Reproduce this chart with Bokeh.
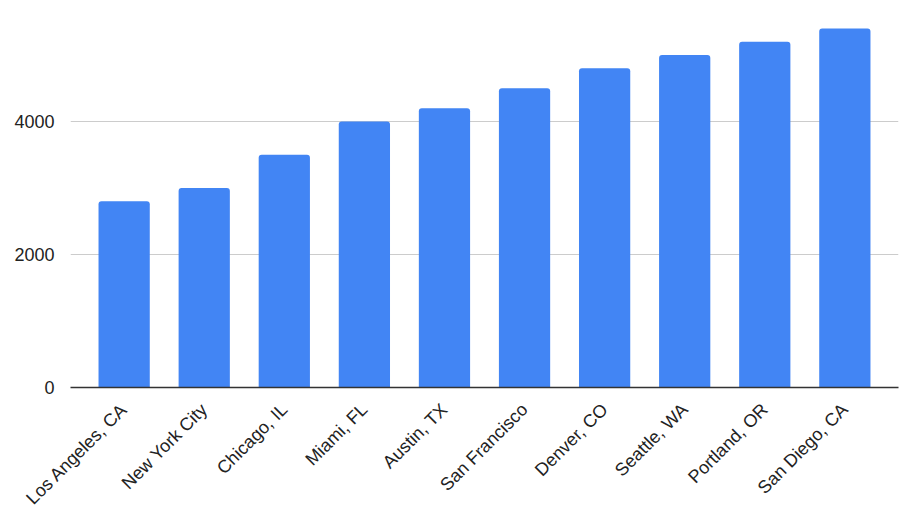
import math
from bokeh.plotting import figure
from bokeh.models import FactorRange, Range1d
from bokeh.embed import file_html
from bokeh.resources import INLINE

cities = ["Los Angeles, CA", "New York City", "Chicago, IL", "Miami, FL", "Austin, TX",
          "San Francisco", "Denver, CO", "Seattle, WA", "Portland, OR", "San Diego, CA"]
values = [2800, 3000, 3500, 4000, 4200, 4500, 4800, 5000, 5200, 5400]
y_ticks = [0, 2000, 4000]

FONT = "Liberation Sans"

p = figure(x_range=FactorRange(factors=cities, range_padding=0.17, range_padding_units="absolute"),
           y_range=Range1d(0, 5610),
           frame_width=828, frame_height=373,
           min_border_left=70, min_border_top=14, min_border_right=5, min_border_bottom=5,
           output_backend="svg", toolbar_location=None)

p.vbar(x=cities, top=values, width=0.64, color="#4285F4", line_color=None,
       border_radius=(3, 3, 0, 0))

p.outline_line_color = None
p.background_fill_color = "white"
p.border_fill_color = "white"

p.xgrid.grid_line_color = None
p.ygrid.grid_line_color = "#cccccc"
p.ygrid.grid_line_width = 1.2

p.yaxis.ticker = y_ticks
p.yaxis.axis_line_color = None
p.yaxis.major_tick_line_color = None
p.yaxis.minor_tick_line_color = None
p.yaxis.major_label_standoff = 10
p.yaxis.major_label_text_font = FONT
p.yaxis.major_label_text_font_size = "18px"
p.yaxis.major_label_text_color = "#222222"

p.xaxis.axis_line_color = "#333333"
p.xaxis.axis_line_width = 1.5
p.xaxis.major_tick_line_color = None
p.xaxis.minor_tick_line_color = None
p.xaxis.major_label_orientation = math.pi / 4
p.xaxis.major_label_standoff = 13
p.xaxis.major_label_text_font = FONT
p.xaxis.major_label_text_font_size = "18px"
p.xaxis.major_label_text_color = "#222222"

open("out.html", "w").write(file_html(p, INLINE))
